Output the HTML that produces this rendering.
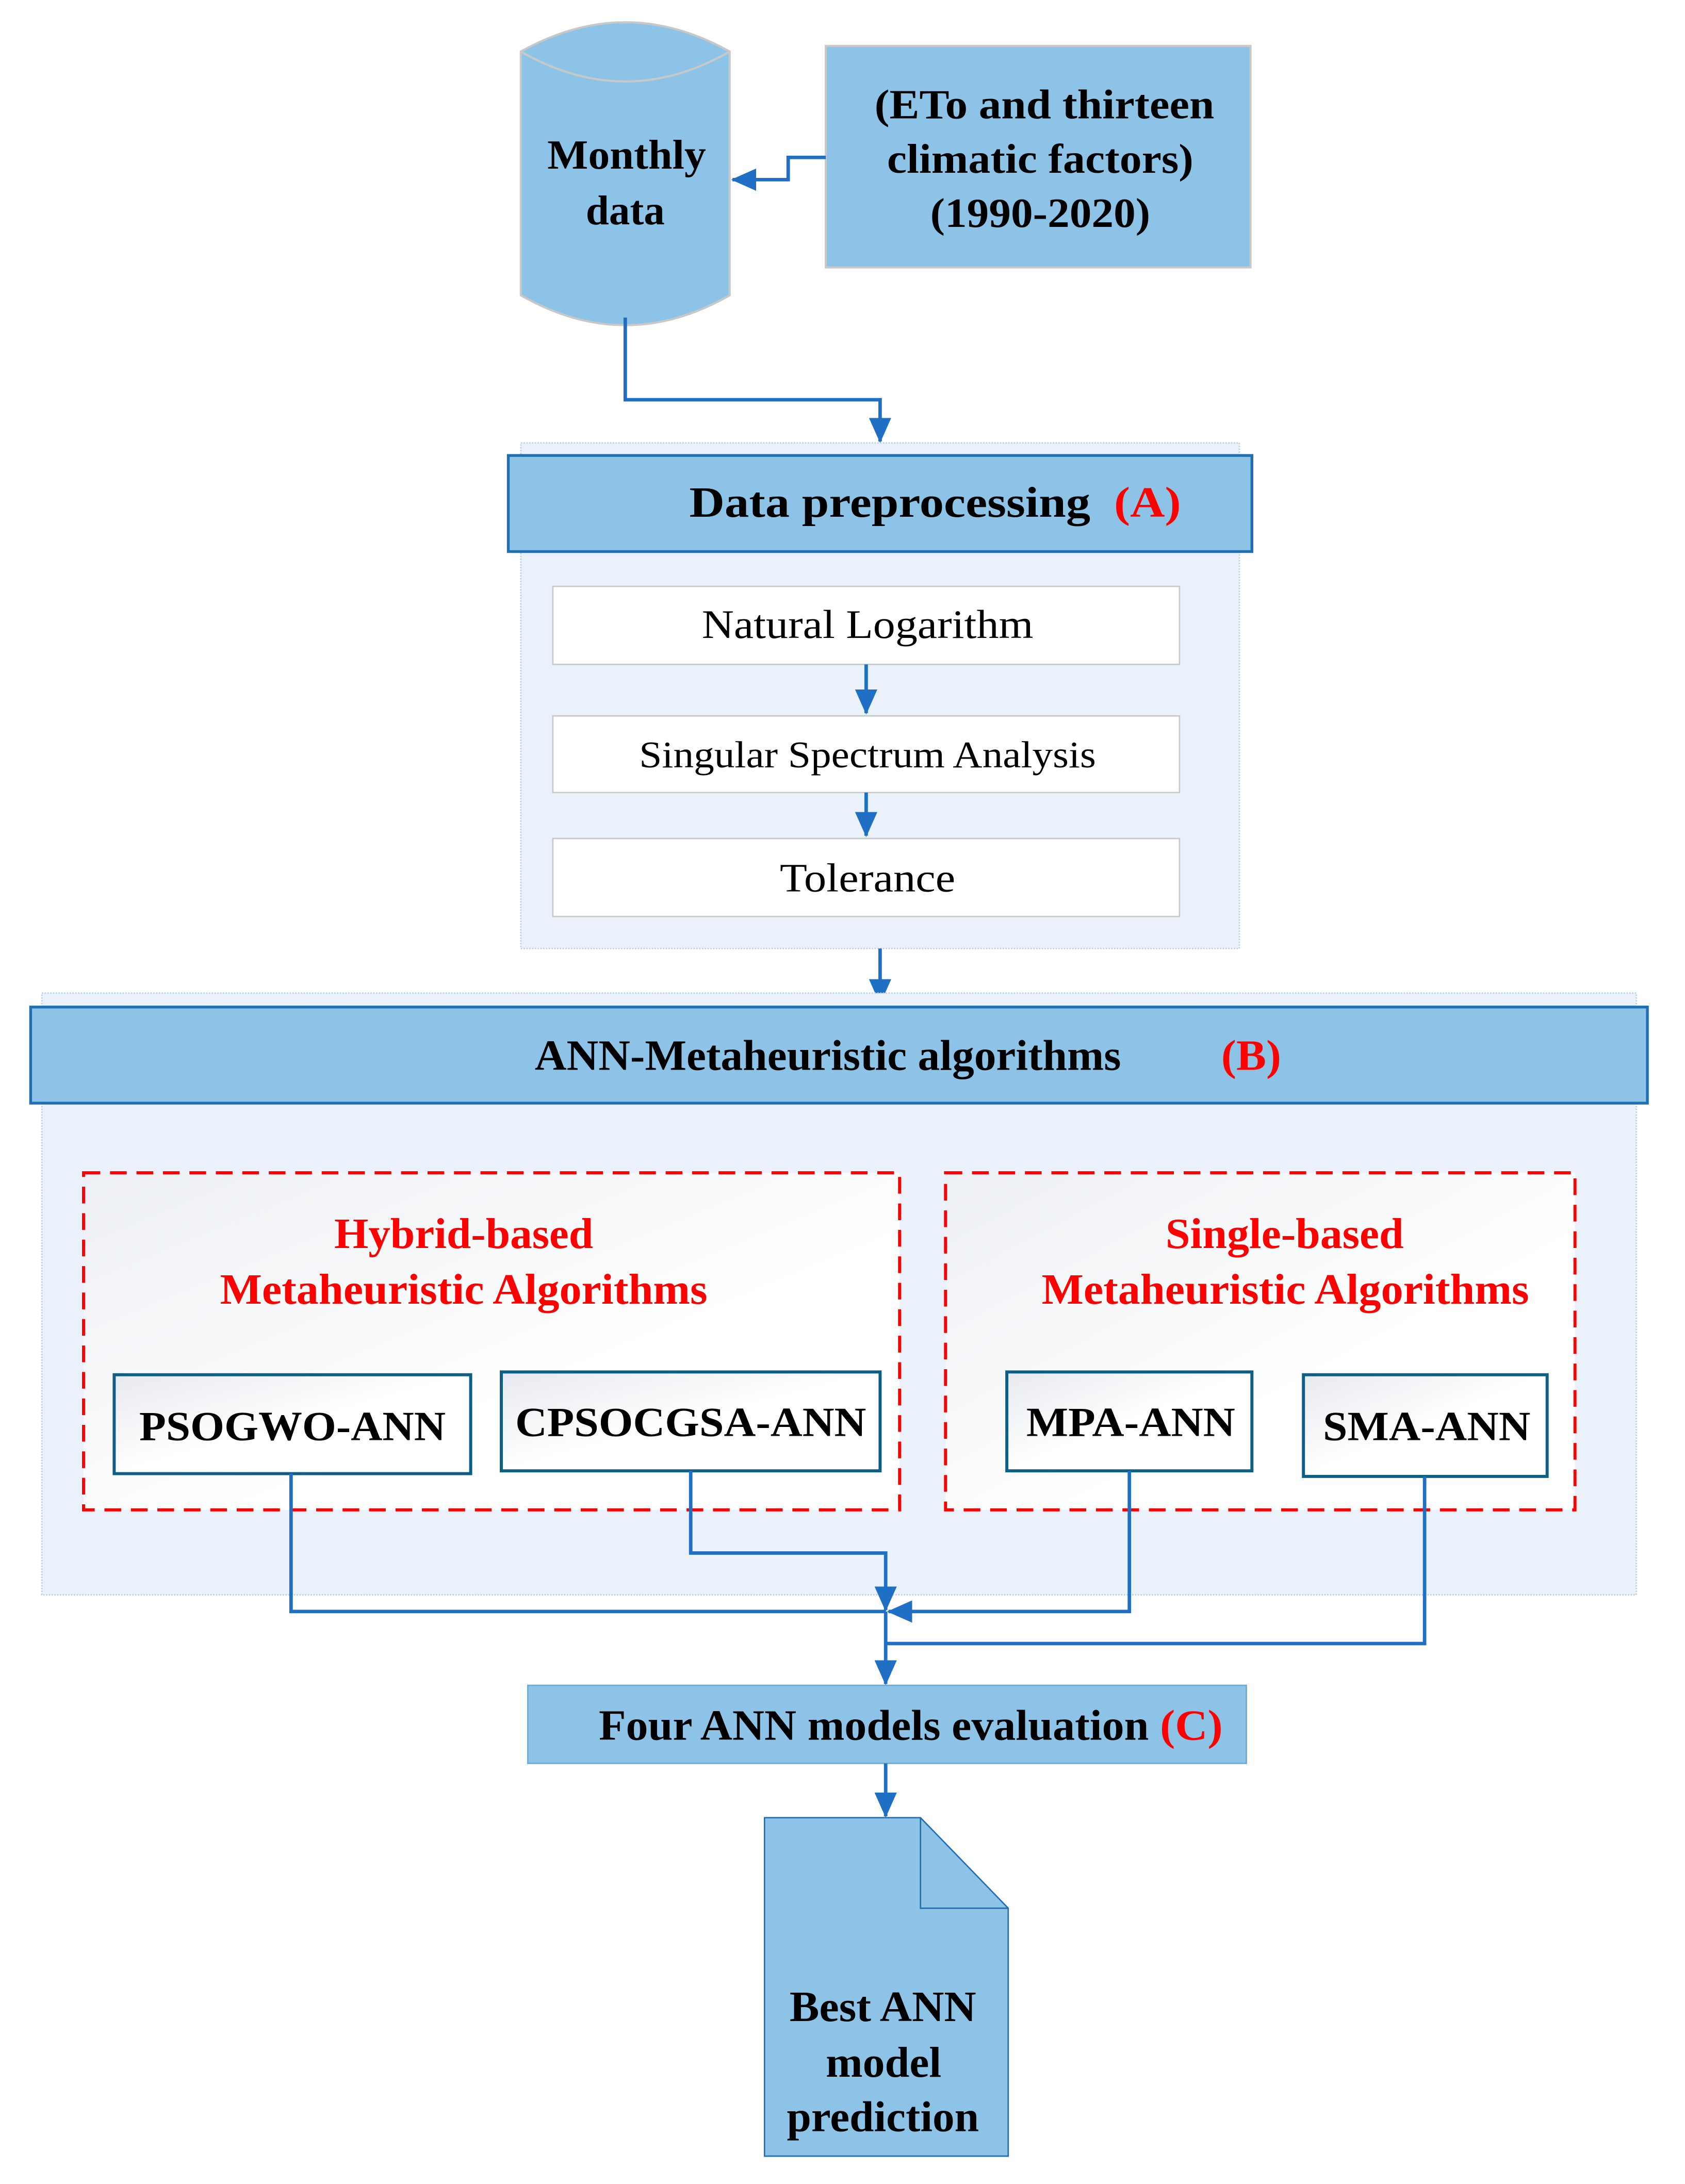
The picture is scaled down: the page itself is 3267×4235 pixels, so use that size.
<!DOCTYPE html>
<html><head><meta charset="utf-8"><style>html,body{margin:0;padding:0;background:#fff}svg{display:block}</style></head>
<body>
<svg width="3267" height="4235" viewBox="0 0 1210 1568" preserveAspectRatio="none" xmlns="http://www.w3.org/2000/svg" font-family="'Liberation Serif', serif">
<defs>
<marker id="ar" markerWidth="18" markerHeight="16" refX="17" refY="8" orient="auto" markerUnits="userSpaceOnUse" viewBox="0 0 18 16">
<path d="M0,0 L18,8 L0,16 z" fill="#1f6fc5"/></marker>
<linearGradient id="g" x1="0" y1="0" x2="1" y2="1"><stop offset="0" stop-color="#e6e9ee"/><stop offset="0.5" stop-color="#fff"/></linearGradient>
<linearGradient id="g2" x1="0" y1="0" x2="1" y2="1"><stop offset="0" stop-color="#eceff3"/><stop offset="0.6" stop-color="#fff"/></linearGradient>
</defs>
<!-- cylinder -->
<path d="M374,37 Q449,-5 524,37 L524,212 Q449,255 374,212 Z" fill="#8dc3e6" stroke="#c8c8c8" stroke-width="1.5"/>
<path d="M374,37 Q449,80 524,37" fill="none" stroke="#c8c8c8" stroke-width="1.5"/>
<g font-weight="bold" font-size="30" lengthAdjust="spacingAndGlyphs">
<text x="393" y="121" textLength="114" lengthAdjust="spacingAndGlyphs">Monthly</text>
<text x="449" y="161" text-anchor="middle">data</text>
</g>
<!-- source box -->
<rect x="593" y="33" width="305" height="159" fill="#8dc3e6" stroke="#c8c8c8" stroke-width="1.5"/>
<g font-weight="bold" font-size="30">
<text x="628" y="85" textLength="244" lengthAdjust="spacingAndGlyphs">(ETo and thirteen</text>
<text x="637" y="124" textLength="220" lengthAdjust="spacingAndGlyphs">climatic factors)</text>
<text x="668" y="163" textLength="158" lengthAdjust="spacingAndGlyphs">(1990-2020)</text>
</g>
<g stroke="#1f6fc5" stroke-width="2.5" fill="none">
<polyline points="593,113 566,113 566,129 526,129" marker-end="url(#ar)"/>
<polyline points="449,228 449,287 632,287 632,317" marker-end="url(#ar)"/>
</g>
<!-- panel A -->
<rect x="374" y="318" width="516" height="363" fill="#eaf1fa" stroke="#b8cfe6" stroke-width="1" stroke-dasharray="1,1"/>
<rect x="365" y="327" width="534" height="69" fill="#8dc3e6" stroke="#1f6fb5" stroke-width="2"/>
<text x="495" y="371" font-size="31" font-weight="bold" textLength="288" lengthAdjust="spacingAndGlyphs">Data preprocessing</text>
<text x="800" y="371" font-size="31" font-weight="bold" fill="#ff0000" textLength="48" lengthAdjust="spacingAndGlyphs">(A)</text>
<rect x="397" y="421" width="450" height="56" fill="#fff" stroke="#c8c8c8" stroke-width="1"/>
<text x="504" y="458" font-size="29" textLength="238" lengthAdjust="spacingAndGlyphs">Natural Logarithm</text>
<rect x="397" y="514" width="450" height="55" fill="#fff" stroke="#c8c8c8" stroke-width="1"/>
<text x="459" y="551" font-size="27" textLength="328" lengthAdjust="spacingAndGlyphs">Singular Spectrum Analysis</text>
<rect x="397" y="602" width="450" height="56" fill="#fff" stroke="#c8c8c8" stroke-width="1"/>
<text x="560" y="640" font-size="29" textLength="126" lengthAdjust="spacingAndGlyphs">Tolerance</text>
<g stroke="#1f6fc5" stroke-width="2.5" fill="none">
<line x1="622" y1="477" x2="622" y2="512" marker-end="url(#ar)"/>
<line x1="622" y1="569" x2="622" y2="600" marker-end="url(#ar)"/>
<line x1="632" y1="681" x2="632" y2="720" marker-end="url(#ar)"/>
</g>
<!-- panel B -->
<rect x="30" y="713" width="1145" height="432" fill="#eaf1fa" stroke="#b8cfe6" stroke-width="1" stroke-dasharray="1,1"/>
<rect x="22" y="723" width="1161" height="69" fill="#8dc3e6" stroke="#1f6fb5" stroke-width="2"/>
<text x="384" y="768" font-size="31" font-weight="bold" textLength="421" lengthAdjust="spacingAndGlyphs">ANN-Metaheuristic algorithms</text>
<text x="877" y="768" font-size="31" font-weight="bold" fill="#ff0000" textLength="43" lengthAdjust="spacingAndGlyphs">(B)</text>
<rect x="60" y="842" width="586" height="242" fill="url(#g2)" stroke="#ff0000" stroke-width="2.2" stroke-dasharray="12,7"/>
<rect x="679" y="842" width="452" height="242" fill="url(#g2)" stroke="#ff0000" stroke-width="2.2" stroke-dasharray="12,7"/>
<g font-size="31" font-weight="bold" fill="#ff0000">
<text x="240" y="896" textLength="186" lengthAdjust="spacingAndGlyphs">Hybrid-based</text>
<text x="158" y="936" textLength="350" lengthAdjust="spacingAndGlyphs">Metaheuristic Algorithms</text>
<text x="837" y="896" textLength="171" lengthAdjust="spacingAndGlyphs">Single-based</text>
<text x="748" y="936" textLength="350" lengthAdjust="spacingAndGlyphs">Metaheuristic Algorithms</text>
</g>
<g stroke="#0d5f85" stroke-width="2.2" fill="url(#g)">
<rect x="82" y="987" width="256" height="71"/>
<rect x="360" y="985" width="272" height="71"/>
<rect x="723" y="985" width="176" height="71"/>
<rect x="936" y="987" width="175" height="73"/>
</g>
<g font-size="30" font-weight="bold">
<text x="100" y="1034" textLength="220" lengthAdjust="spacingAndGlyphs">PSOGWO-ANN</text>
<text x="370" y="1031" textLength="252" lengthAdjust="spacingAndGlyphs">CPSOCGSA-ANN</text>
<text x="737" y="1031" textLength="150" lengthAdjust="spacingAndGlyphs">MPA-ANN</text>
<text x="950" y="1034" textLength="149" lengthAdjust="spacingAndGlyphs">SMA-ANN</text>
</g>
<g stroke="#1f6fc5" stroke-width="2.5" fill="none">
<polyline points="209,1058 209,1157 636,1157"/>
<polyline points="496,1056 496,1115 636,1115 636,1156" marker-end="url(#ar)"/>
<polyline points="811,1056 811,1157 638,1157" marker-end="url(#ar)"/>
<polyline points="1023,1060 1023,1180 636,1180"/>
<line x1="636" y1="1157" x2="636" y2="1209" marker-end="url(#ar)"/>
</g>
<!-- C -->
<rect x="379" y="1210" width="516" height="56" fill="#8dc3e6" stroke="#6fa8d0" stroke-width="1"/>
<text x="430" y="1249" font-size="31" font-weight="bold" textLength="395" lengthAdjust="spacingAndGlyphs">Four ANN models evaluation</text>
<text x="833" y="1249" font-size="31" font-weight="bold" fill="#ff0000" textLength="45" lengthAdjust="spacingAndGlyphs">(C)</text>
<line x1="636" y1="1266" x2="636" y2="1304" stroke="#1f6fc5" stroke-width="2.5" marker-end="url(#ar)"/>
<!-- document -->
<path d="M549,1305 L661,1305 L724,1370 L724,1548 L549,1548 Z" fill="#8dc3e6" stroke="#1f6fb5" stroke-width="1"/>
<path d="M661,1305 L661,1370 L724,1370" fill="none" stroke="#1f6fb5" stroke-width="1"/>
<g font-size="31" font-weight="bold">
<text x="567" y="1451" textLength="134" lengthAdjust="spacingAndGlyphs">Best ANN</text>
<text x="593" y="1491" textLength="83" lengthAdjust="spacingAndGlyphs">model</text>
<text x="565" y="1530" textLength="138" lengthAdjust="spacingAndGlyphs">prediction</text>
</g>
</svg>
</body></html>
